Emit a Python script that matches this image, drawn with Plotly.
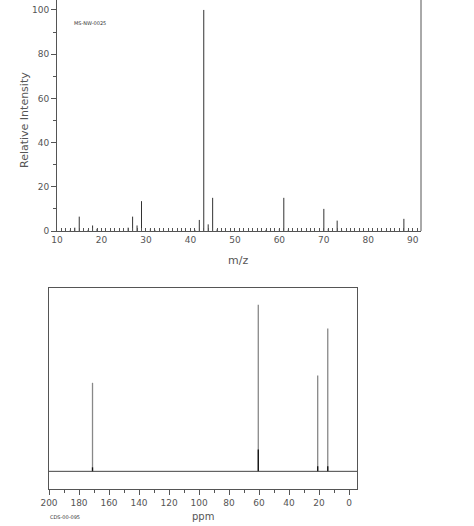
import plotly.graph_objects as go

# mass spectrum (m/z, relative intensity)
ms_mz = [13, 14, 15, 17, 18, 19, 26, 27, 28, 29, 31, 32, 41, 42, 43, 44, 45, 46, 57, 60, 61, 62, 70, 71, 73, 74, 88, 89]
ms_int = [0.5, 1.5, 6.5, 0.5, 2.5, 1, 1.5, 6.5, 2.5, 13.5, 1, 0.5, 0.5, 5, 100, 3, 15, 0.7, 0.5, 1, 15, 0.6, 10, 1, 4.7, 0.5, 5.5, 0.4]

# 13C NMR peaks (ppm, height, darker foot)
nmr_ppm = [171.0, 60.5, 20.9, 14.2]
nmr_h = [88.7, 167.0, 96.0, 143.0]
nmr_foot = [4, 22, 5, 5]

grey = "#555555"
W, H = 474, 526

def px(v):
    return v / W

def py(v):
    return 1 - v / H

fig = go.Figure()

def sticks(xs, ys, base=0):
    X, Y = [], []
    for a, b in zip(xs, ys):
        X += [a, a, None]
        Y += [base, b, None]
    return X, Y

x, y = sticks(ms_mz, ms_int)
fig.add_trace(go.Scatter(x=x, y=y, mode="lines", line=dict(color="#333", width=1),
                         xaxis="x", yaxis="y", hoverinfo="skip"))
x, y = sticks(nmr_ppm, nmr_h)
fig.add_trace(go.Scatter(x=x, y=y, mode="lines", line=dict(color="#888", width=1.3),
                         xaxis="x2", yaxis="y2", hoverinfo="skip"))
x, y = sticks(nmr_ppm, nmr_foot)
fig.add_trace(go.Scatter(x=x, y=y, mode="lines", line=dict(color="#111", width=1.3),
                         xaxis="x2", yaxis="y2", hoverinfo="skip"))
fig.add_trace(go.Scatter(x=[205.3, -5.3], y=[0, 0], mode="lines", line=dict(color="#444", width=1),
                         xaxis="x2", yaxis="y2", hoverinfo="skip"))

tf = dict(family="DejaVu Sans", size=9, color=grey)
fig.update_layout(
    width=W, height=H, margin=dict(l=0, r=0, t=0, b=0, autoexpand=False),
    paper_bgcolor="white", plot_bgcolor="white", showlegend=False,
    xaxis=dict(domain=[px(57), px(421)], range=[10, 91.85], anchor="y", automargin=False,
               tickvals=list(range(10, 100, 10)), ticks="inside", ticklen=3,
               minor=dict(dtick=1, ticks="inside", ticklen=3, tickcolor=grey),
               showline=True, linecolor=grey, tickcolor=grey, showgrid=False,
               zeroline=False, tickfont=tf),
    yaxis=dict(domain=[py(231), 1], range=[0, 104.5], anchor="x", automargin=False,
               tickvals=list(range(0, 101, 20)), ticks="outside", ticklen=5,
               minor=dict(dtick=10, ticks="outside", ticklen=3, tickcolor=grey),
               showline=True, linecolor=grey, tickcolor=grey, showgrid=False,
               zeroline=False, tickfont=tf),
    xaxis2=dict(domain=[px(49), px(357)], range=[200, -5.3], anchor="y2", automargin=False,
                tickvals=list(range(0, 201, 20)), ticks="outside", ticklen=5,
                minor=dict(dtick=10, ticks="outside", ticklen=3, tickcolor=grey),
                showline=True, linecolor=grey, mirror=True, tickcolor=grey,
                showgrid=False, zeroline=False, tickfont=tf),
    yaxis2=dict(domain=[py(489), py(288)], range=[-17.7, 183.7], anchor="x2", automargin=False,
                showticklabels=False, ticks="", showline=True, linecolor=grey,
                mirror=True, showgrid=False, zeroline=False),
    shapes=[dict(type="line", xref="paper", yref="paper", x0=px(421), x1=px(421),
                 y0=py(231), y1=1, line=dict(color=grey, width=1))],
    annotations=[
        dict(text="Relative Intensity", x=px(25), y=py(120), xref="paper", yref="paper",
             xanchor="center", yanchor="middle",
             textangle=-90, showarrow=False, font=dict(family="DejaVu Sans", size=11, color=grey)),
        dict(text="m/z", x=px(238), y=py(260), xref="paper", yref="paper",
             xanchor="center", yanchor="middle",
             showarrow=False, font=dict(family="DejaVu Sans", size=11, color=grey)),
        dict(text="ppm", x=px(203), y=py(516), xref="paper", yref="paper",
             xanchor="center", yanchor="middle",
             showarrow=False, font=dict(family="DejaVu Sans", size=10, color=grey)),
        dict(text="MS-NW-0025", x=px(72), y=py(18), xref="paper", yref="paper",
             xanchor="left", showarrow=False, font=dict(family="DejaVu Sans", size=5, color="#333")),
        dict(text="CDS-00-095", x=px(48), y=py(517), xref="paper", yref="paper",
             xanchor="left", yanchor="middle", showarrow=False,
             font=dict(family="DejaVu Sans", size=5, color="#333")),
    ],
)

fig.write_html("out.html", config={"displayModeBar": False},
               post_script="document.body.style.margin='0';")
